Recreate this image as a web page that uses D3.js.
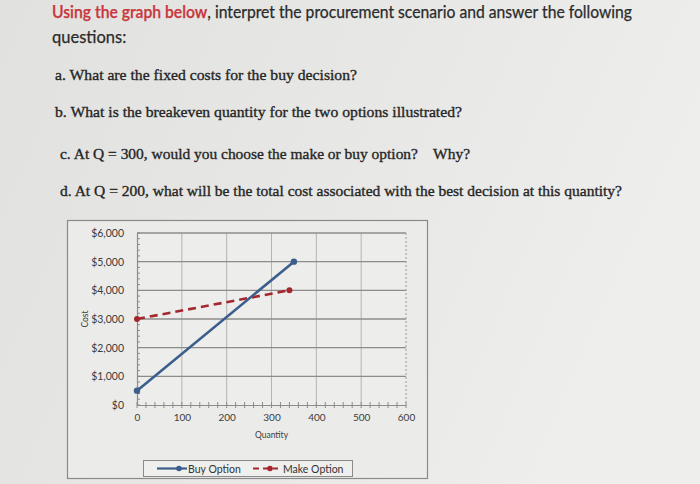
<!DOCTYPE html>
<html><head><meta charset="utf-8">
<script src="https://cdn.jsdelivr.net/npm/d3@7"></script>
<style>
html,body{margin:0;padding:0;background:#e7e7e5;}
svg{display:block;}
</style></head>
<body>
<svg id="c" width="700" height="484"></svg>
<script>
// ---- data ----
const titleRed = "Using the graph below";
const titleRest = ", interpret the procurement scenario and answer the following";
const titleLine2 = "questions:";
const questions = [
  "a. What are the fixed costs for the buy decision?",
  "b. What is the breakeven quantity for the two options illustrated?",
  "c. At Q = 300, would you choose the make or buy option?    Why?",
  "d. At Q = 200, what will be the total cost associated with the best decision at this quantity?"
];
const seriesNames = ["Buy Option", "Make Option"];
const buyQty = [0, 350];
const buyCost = [500, 5000];
const makeQty = [0, 340];
const makeCost = [3000, 4000];
const xTicks = [0, 100, 200, 300, 400, 500, 600];
const yTicks = [0, 1000, 2000, 3000, 4000, 5000, 6000];
const xTitle = "Quantity";
const yTitle = "Cost";

// ---- drawing ----
const svg = d3.select("#c");
const defs = svg.append("defs");
const grad = defs.append("linearGradient").attr("id","bg").attr("x1","0").attr("x2","1").attr("y1","0").attr("y2","0.3");
grad.append("stop").attr("offset","0").attr("stop-color","#e1e1df");
grad.append("stop").attr("offset","0.6").attr("stop-color","#e8e8e6");
grad.append("stop").attr("offset","1").attr("stop-color","#eeeeec");
svg.append("rect").attr("width",700).attr("height",484).attr("fill","url(#bg)");

// header text
const t1 = svg.append("text").attr("x",52).attr("y",18)
  .attr("font-family","Lato, 'Open Sans', sans-serif").attr("font-size",16.5).attr("fill","#2b2b2b")
  .attr("stroke","#2b2b2b").attr("stroke-width",0.25)
  .attr("textLength",580).attr("lengthAdjust","spacingAndGlyphs");
t1.append("tspan").attr("fill","#c9363c").attr("stroke","#c9363c").attr("font-weight","600").text(titleRed);
t1.append("tspan").text(titleRest);
svg.append("text").attr("x",52).attr("y",43)
  .attr("font-family","Lato, 'Open Sans', sans-serif").attr("font-size",16.5).attr("fill","#2b2b2b")
  .attr("stroke","#2b2b2b").attr("stroke-width",0.25)
  .text(titleLine2);

const qPos = [{x:55,y:80,w:302},{x:55,y:117,w:407},{x:60,y:159,w:410},{x:60,y:196,w:562}];
questions.forEach((q,i)=>{
  svg.append("text").attr("x",qPos[i].x).attr("y",qPos[i].y)
    .attr("font-family","'Liberation Serif', 'DejaVu Serif', serif").attr("font-size",15.5).attr("fill","#262626")
    .attr("stroke","#262626").attr("stroke-width",0.35)
    .attr("textLength",qPos[i].w).attr("lengthAdjust","spacingAndGlyphs")
    .attr("xml:space","preserve").style("white-space","pre")
    .text(q);
});

// chart frame
svg.append("rect").attr("x",67.5).attr("y",220.5).attr("width",360).attr("height",258)
  .attr("fill","#ebebe9").attr("stroke","#8a8a8a").attr("stroke-width",1.2);

const x = d3.scaleLinear().domain([0,600]).range([137,406]);
const y = d3.scaleLinear().domain([0,6000]).range([405,233]);

const g = svg.append("g");
// plot background
g.append("rect").attr("x",x(0)).attr("y",y(6000)).attr("width",x(600)-x(0)).attr("height",y(0)-y(6000))
  .attr("fill","#ededeb");

// vertical grid
g.selectAll(".vg").data(xTicks.slice(1)).enter().append("line")
  .attr("x1",d=>x(d)).attr("x2",d=>x(d)).attr("y1",y(6000)).attr("y2",y(0))
  .attr("stroke",d=>d===600?"#999":"#b4b4b4").attr("stroke-width",1)
  .attr("stroke-dasharray",d=>d===600?"2,2":null);
// horizontal grid
g.selectAll(".hg").data(yTicks.slice(1)).enter().append("line")
  .attr("x1",x(0)).attr("x2",x(600)).attr("y1",d=>y(d)).attr("y2",d=>y(d))
  .attr("stroke","#8c8c8c").attr("stroke-width",1.3);

// left axis with minor ticks inside
const yAxis = d3.axisLeft(y).tickValues(yTicks).tickSize(0).tickPadding(13)
  .tickFormat(d=>"$"+d3.format(",")(d));
const ya = g.append("g").attr("transform",`translate(${x(0)},0)`).call(yAxis);
ya.select(".domain").attr("stroke","#8c8c8c").attr("stroke-width",1.2);
ya.selectAll("text").attr("font-family","Lato, 'Open Sans', sans-serif").attr("font-size",10.5).attr("fill","#3c3c3c");
const yMinor = d3.range(0,6001,200);
g.selectAll(".ym").data(yMinor).enter().append("line")
  .attr("x1",x(0)).attr("x2",x(0)+3).attr("y1",d=>y(d)).attr("y2",d=>y(d))
  .attr("stroke","#8c8c8c").attr("stroke-width",1);

// bottom axis with minor cross ticks
const xAxis = d3.axisBottom(x).tickValues(xTicks).tickSize(0).tickPadding(9);
const xa = g.append("g").attr("transform",`translate(0,${y(0)})`).call(xAxis);
xa.select(".domain").attr("stroke","#8c8c8c").attr("stroke-width",1.2);
xa.selectAll("text").attr("font-family","Lato, 'Open Sans', sans-serif").attr("font-size",10).attr("fill","#3c3c3c");
const xMinor = d3.range(0,601,20);
g.selectAll(".xm").data(xMinor).enter().append("line")
  .attr("x1",d=>x(d)).attr("x2",d=>x(d)).attr("y1",y(0)-3).attr("y2",y(0)+3)
  .attr("stroke","#8c8c8c").attr("stroke-width",1);

// axis titles
g.append("text").attr("x",(x(0)+x(600))/2).attr("y",438).attr("text-anchor","middle")
  .attr("font-family","Lato, 'Open Sans', sans-serif").attr("font-size",8.5).attr("fill","#3c3c3c").text(xTitle);
g.append("text").attr("transform",`translate(88,${y(3000)}) rotate(-90)`).attr("text-anchor","middle")
  .attr("font-family","Lato, 'Open Sans', sans-serif").attr("font-size",8.5).attr("fill","#3c3c3c").text(yTitle);

// series
const line = d3.line().x(d=>x(d[0])).y(d=>y(d[1]));
const buyPts = buyQty.map((q,i)=>[q,buyCost[i]]);
const makePts = makeQty.map((q,i)=>[q,makeCost[i]]);
const buyColor = "#3b5e8c", makeColor = "#a3272c";

g.append("path").datum(makePts).attr("d",line).attr("fill","none")
  .attr("stroke",makeColor).attr("stroke-width",2.6).attr("stroke-dasharray","8,5");
g.selectAll(".mp").data(makePts).enter().append("circle")
  .attr("cx",d=>x(d[0])).attr("cy",d=>y(d[1])).attr("r",3).attr("fill",makeColor);

g.append("path").datum(buyPts).attr("d",line).attr("fill","none")
  .attr("stroke",buyColor).attr("stroke-width",2.6);
g.selectAll(".bp").data(buyPts).enter().append("circle")
  .attr("cx",d=>x(d[0])).attr("cy",d=>y(d[1])).attr("r",3.2).attr("fill",buyColor);

// legend
const lg = svg.append("g");
lg.append("rect").attr("x",143.5).attr("y",460.5).attr("width",209).attr("height",16)
  .attr("fill","#efefed").attr("stroke","#8a8a8a").attr("stroke-width",1);
const legendItems = [
  {name:seriesNames[0], color:buyColor, dash:null, x0:157, x1:187, tx:188},
  {name:seriesNames[1], color:makeColor, dash:"6,4", x0:253, x1:278, tx:283}
];
legendItems.forEach(it=>{
  lg.append("line").attr("x1",it.x0).attr("x2",it.x1).attr("y1",468.5).attr("y2",468.5)
    .attr("stroke",it.color).attr("stroke-width",2.2).attr("stroke-dasharray",it.dash);
  lg.append("circle").attr("cx",it.x1-8).attr("cy",468.5).attr("r",2.8).attr("fill",it.color);
  lg.append("text").attr("x",it.tx).attr("y",472.5)
    .attr("font-family","Lato, 'Open Sans', sans-serif").attr("font-size",10.5).attr("fill","#333")
    .text(it.name);
});
</script>
</body></html>
